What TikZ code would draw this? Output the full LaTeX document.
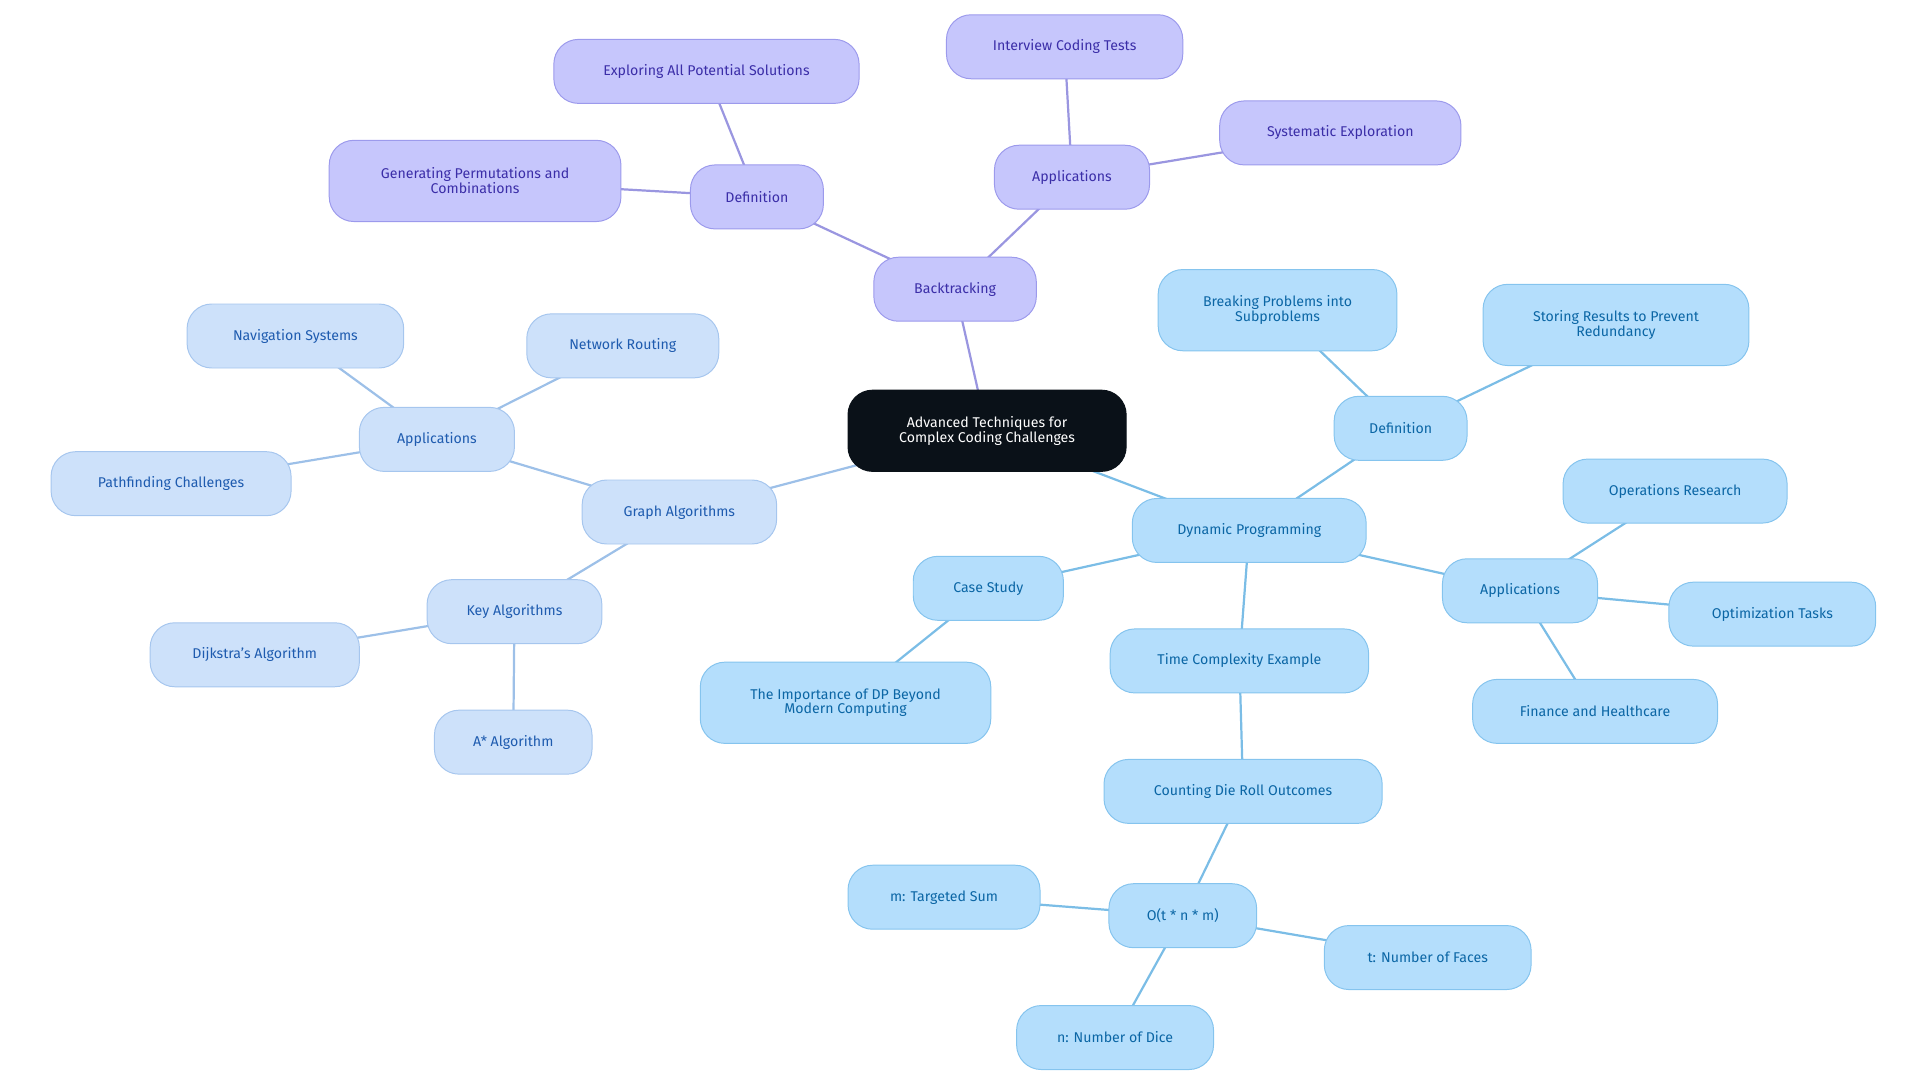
\documentclass[tikz,border=0pt]{standalone}
\usepackage{fontspec}
\setmainfont{Fira Sans}
\usetikzlibrary{backgrounds}
\definecolor{bfill}{HTML}{C6C6FC}\definecolor{bdraw}{HTML}{9C9AEC}\definecolor{btext}{HTML}{3B2EA8}
\definecolor{gfill}{HTML}{CDE1FA}\definecolor{gdraw}{HTML}{A6C6EE}\definecolor{gtext}{HTML}{1E5BAF}
\definecolor{dfill}{HTML}{B4DEFC}\definecolor{ddraw}{HTML}{85C4EE}\definecolor{dtext}{HTML}{0B66A5}
\definecolor{cfill}{HTML}{0A1118}
\definecolor{bline}{HTML}{9A96E0}\definecolor{gline}{HTML}{9DC0E8}\definecolor{dline}{HTML}{7BBDE6}
\tikzset{
 base/.style={rounded corners=20pt,minimum height=52pt,align=center,font=\fontsize{11.5}{12}\selectfont,line width=0.8pt,inner sep=2pt},
 bn/.style={base,fill=bfill,draw=bdraw,text=btext},
 gn/.style={base,fill=gfill,draw=gdraw,text=gtext},
 dn/.style={base,fill=dfill,draw=ddraw,text=dtext},
 cn/.style={base,fill=cfill,draw=cfill,text=white,minimum height=66pt},
 bl/.style={bline,line width=1.8pt},
 gl/.style={gline,line width=1.8pt},
 dl/.style={dline,line width=1.8pt},
}
\begin{document}
\begin{tikzpicture}[x=1pt,y=-1pt]
\useasboundingbox (0,0) rectangle (1560,880);
\node[cn,minimum width=226pt] (c) at (802,350) {Advanced Techniques for\\Complex Coding Challenges};
\node[bn,minimum width=132pt] (bt) at (776,235) {Backtracking};
\node[bn,minimum width=108pt] (bd) at (615,160) {Definition};
\node[bn,minimum width=248pt] (be) at (574,58) {Exploring All Potential Solutions};
\node[bn,minimum width=237pt,minimum height=66pt] (bg) at (386,147) {Generating Permutations and\\Combinations};
\node[bn,minimum width=126pt] (ba) at (871,144) {Applications};
\node[bn,minimum width=192pt] (bi) at (865,38) {Interview Coding Tests};
\node[bn,minimum width=196pt] (bs) at (1089,108) {Systematic Exploration};
\node[gn,minimum width=158pt] (g) at (552,416) {Graph Algorithms};
\node[gn,minimum width=126pt] (ga) at (355,357) {Applications};
\node[gn,minimum width=176pt] (gnav) at (240,273) {Navigation Systems};
\node[gn,minimum width=156pt] (gnet) at (506,281) {Network Routing};
\node[gn,minimum width=195pt] (gp) at (139,393) {Pathfinding Challenges};
\node[gn,minimum width=142pt] (gk) at (418,497) {Key Algorithms};
\node[gn,minimum width=170pt] (gdj) at (207,532) {Dijkstra's Algorithm};
\node[gn,minimum width=128pt] (gas) at (417,603) {A* Algorithm};
\node[dn,minimum width=190pt] (d) at (1015,431) {Dynamic Programming};
\node[dn,minimum width=108pt] (dd) at (1138,348) {Definition};
\node[dn,minimum width=194pt,minimum height=66pt] (db) at (1038,252) {Breaking Problems into\\Subproblems};
\node[dn,minimum width=216pt,minimum height=66pt] (ds) at (1313,264) {Storing Results to Prevent\\Redundancy};
\node[dn,minimum width=126pt] (da) at (1235,480) {Applications};
\node[dn,minimum width=182pt] (dor) at (1361,399) {Operations Research};
\node[dn,minimum width=168pt] (dot) at (1440,499) {Optimization Tasks};
\node[dn,minimum width=199pt] (dfh) at (1296,578) {Finance and Healthcare};
\node[dn,minimum width=122pt] (dc) at (803,478) {Case Study};
\node[dn,minimum width=236pt,minimum height=66pt] (di) at (687,571) {The Importance of DP Beyond\\Modern Computing};
\node[dn,minimum width=210pt] (dt) at (1007,537) {Time Complexity Example};
\node[dn,minimum width=226pt] (dcr) at (1010,643) {Counting Die Roll Outcomes};
\node[dn,minimum width=120pt] (o) at (961,744) {O(t * n * m)};
\node[dn,minimum width=156pt] (om) at (767,729) {m: Targeted Sum};
\node[dn,minimum width=168pt] (ot) at (1160,778) {t: Number of Faces};
\node[dn,minimum width=160pt] (on) at (906,843) {n: Number of Dice};
\begin{pgfonlayer}{background}
\draw[bl] (c.center)--(bt.center) (bt.center)--(bd.center) (bd.center)--(be.center) (bd.center)--(bg.center)
 (bt.center)--(ba.center) (ba.center)--(bi.center) (ba.center)--(bs.center);
\draw[gl] (c.center)--(g.center) (g.center)--(ga.center) (ga.center)--(gnav.center) (ga.center)--(gnet.center)
 (ga.center)--(gp.center) (g.center)--(gk.center) (gk.center)--(gdj.center) (gk.center)--(gas.center);
\draw[dl] (c.center)--(d.center) (d.center)--(dd.center) (dd.center)--(db.center) (dd.center)--(ds.center)
 (d.center)--(da.center) (da.center)--(dor.center) (da.center)--(dot.center) (da.center)--(dfh.center)
 (d.center)--(dc.center) (dc.center)--(di.center) (d.center)--(dt.center) (dt.center)--(dcr.center)
 (dcr.center)--(o.center) (o.center)--(om.center) (o.center)--(ot.center) (o.center)--(on.center);
\end{pgfonlayer}
\end{tikzpicture}
\end{document}
